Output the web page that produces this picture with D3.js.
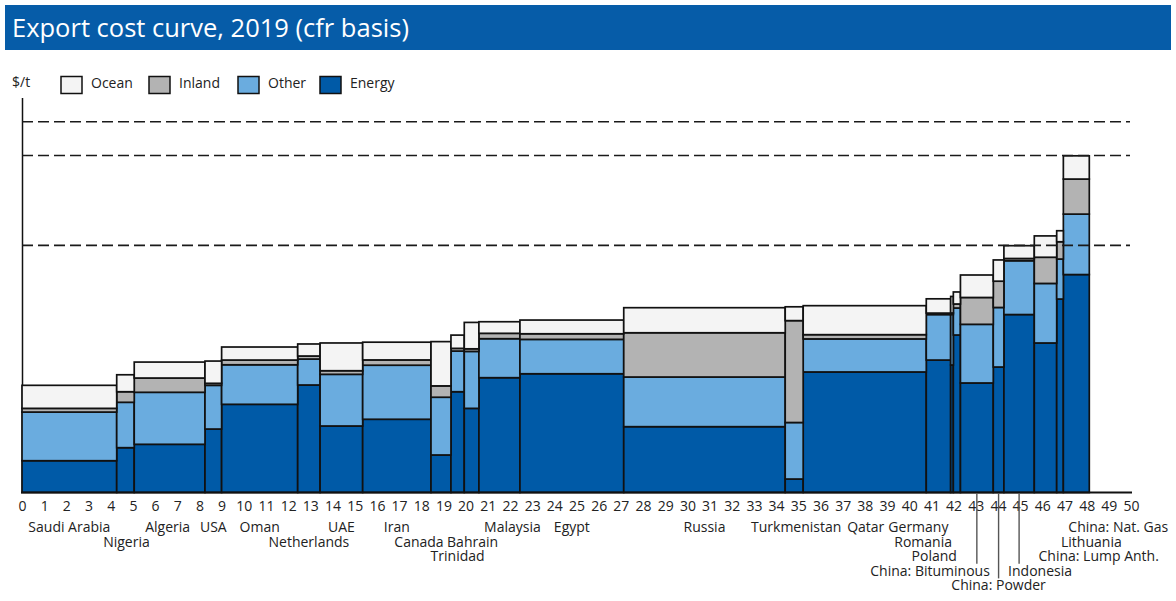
<!DOCTYPE html>
<html>
<head>
<meta charset="utf-8">
<script src="https://cdn.jsdelivr.net/npm/d3@7"></script>
<style>
  html, body { margin: 0; padding: 0; background: #fff; }
  svg { display: block; font-family: "Open Sans", "Noto Sans", sans-serif; }
</style>
</head>
<body>
<svg id="chart" width="1176" height="601"></svg>
<script>
// ---------------- data ----------------
const countries = ["Saudi Arabia", "Nigeria", "Algeria", "USA", "Oman", "Netherlands", "UAE", "Iran",
  "Canada", "Trinidad", "Bahrain", "Malaysia", "Egypt", "Russia", "Turkmenistan", "Qatar", "Germany",
  "Romania", "Poland", "China: Bituminous", "China: Powder", "Indonesia", "China: Lump Anth.",
  "Lithuania", "China: Nat. Gas"];
const volumes = [4.27, 0.79, 3.19, 0.75, 3.43, 1.01, 1.92, 3.08, 0.90, 0.60, 0.66, 1.85, 4.68,
  7.28, 0.81, 5.55, 1.10, 0.12, 0.32, 1.48, 0.48, 1.37, 1.01, 0.30, 1.17];
const energy = [28.3, 39.9, 42.9, 56.5, 78.5, 95.7, 59.2, 65.2, 33.4, 89.7, 74.9, 102.2, 105.7,
  58.6, 12.0, 107.3, 117.9, 113.5, 140.2, 97.5, 111.7, 158.4, 133.1, 172.2, 194.0];
const other = [43.3, 40.4, 46.3, 38.9, 35.2, 23.1, 46.0, 48.1, 51.4, 36.2, 50.7, 34.7, 30.6,
  44.2, 50.3, 29.4, 40.5, 45.0, 24.0, 52.2, 53.0, 47.9, 53.0, 35.6, 53.8];
const inland = [3.3, 9.4, 12.7, 1.8, 4.2, 2.7, 3.2, 4.7, 10.1, 2.4, 2.3, 4.8, 5.0,
  39.4, 90.7, 3.8, 1.3, 1.3, 3.6, 23.9, 23.4, 2.0, 23.3, 15.4, 31.2];
const ocean = [20.5, 15.1, 14.2, 19.8, 11.6, 10.7, 24.7, 15.8, 39.4, 11.8, 23.5, 10.3, 12.2,
  22.3, 12.3, 25.8, 12.7, 14.7, 10.7, 20.0, 18.9, 11.4, 19.0, 9.8, 20.7];
const seriesNames = ["Energy", "Other", "Inland", "Ocean"];   // stacking order, bottom to top
const legendOrder = ["Ocean", "Inland", "Other", "Energy"];
const referenceLevels = [220, 300, 330];
const xTickValues = d3.range(0, 51, 1);
const titleText = "Export cost curve, 2019 (cfr basis)";
const yUnit = "$/t";

// label layout (row, anchor, shift) – presentation only
const labelRow = [0,1,0,0,0,1,0,0,1,2,1,0,0,0,0,0,0,1,2,3,4,3,2,1,0];
const labelAnchor = ["middle","middle","middle","middle","middle","middle","middle","middle","middle","middle",
  "middle","middle","middle","middle","middle","middle","end","end","end","end","middle","start","start","start","start"];
const labelShift = [0,1,-2,0,0,0,0,0,-22,0,1,13,0,0,2,1,10,0,0,13,0,-11,-7,1,-8];
const leader = [19, 20, 21];

// ---------------- chart ----------------
const colors = { Ocean: "#f4f4f4", Inland: "#b3b3b3", Other: "#6aacdf", Energy: "#005aa7" };
const svg = d3.select("#chart");

// title banner
svg.append("rect").attr("x", 5).attr("y", 5).attr("width", 1166).attr("height", 45).attr("fill", "#065ca8");
svg.append("text").attr("x", 12).attr("y", 37).attr("fill", "#fff")
  .attr("font-size", 25.5).text(titleText);

const x = d3.scaleLinear().domain([0, 50]).range([22, 1131]);
const y = d3.scaleLinear().domain([0, 350]).range([492.5, 99.3]);

// build stacked data
const starts = [0, ...d3.cumsum(volumes)].slice(0, volumes.length);
const table = countries.map((c, i) => ({
  country: c, x0: starts[i], x1: starts[i] + volumes[i],
  Energy: energy[i], Other: other[i], Inland: inland[i], Ocean: ocean[i]
}));
const stack = d3.stack().keys(seriesNames)(table);

// y axis line
svg.append("line").attr("x1", 22.5).attr("x2", 22.5).attr("y1", 98).attr("y2", y(0))
  .attr("stroke", "#111").attr("stroke-width", 1.5);

// bars
const g = svg.append("g");
stack.forEach(layer => {
  g.append("g").selectAll("rect").data(layer).join("rect")
    .attr("x", d => x(d.data.x0))
    .attr("width", d => x(d.data.x1) - x(d.data.x0))
    .attr("y", d => y(d[1]))
    .attr("height", d => y(d[0]) - y(d[1]))
    .attr("fill", colors[layer.key])
    .attr("stroke", "#111").attr("stroke-width", 1.7);
});

// reference dashed lines
svg.append("g").selectAll("line").data(referenceLevels).join("line")
  .attr("x1", x(0)).attr("x2", 1130)
  .attr("y1", d => y(d)).attr("y2", d => y(d))
  .attr("stroke", "#1a1a1a").attr("stroke-width", 1.6).attr("stroke-dasharray", "11,5");

// x axis
svg.append("line").attr("x1", 21).attr("x2", 1132).attr("y1", y(0)).attr("y2", y(0))
  .attr("stroke", "#111").attr("stroke-width", 2);
const xAxis = svg.append("g").attr("transform", `translate(0,${y(0)})`)
  .call(d3.axisBottom(x).tickValues(xTickValues).tickSize(0).tickPadding(8.5).tickFormat(d3.format("d")));
xAxis.select(".domain").remove();
xAxis.selectAll("text").attr("font-size", 14).attr("fill", "#222")
  .attr("font-family", "'Open Sans', sans-serif");

// country labels
const rowY = r => 532 + r * 14.6;
svg.append("g").selectAll("text").data(table).join("text")
  .attr("x", (d, i) => (x(d.x0) + x(d.x1)) / 2 + labelShift[i])
  .attr("y", (d, i) => rowY(labelRow[i]))
  .attr("text-anchor", (d, i) => labelAnchor[i])
  .attr("font-size", 14).attr("fill", "#222")
  .text(d => d.country);

// leader lines
svg.append("g").selectAll("line").data(leader).join("line")
  .attr("x1", i => (x(table[i].x0) + x(table[i].x1)) / 2)
  .attr("x2", i => (x(table[i].x0) + x(table[i].x1)) / 2)
  .attr("y1", y(0) + 1)
  .attr("y2", i => rowY(labelRow[i]) - 12)
  .attr("stroke", "#555").attr("stroke-width", 1.4);

// legend
svg.append("text").attr("x", 12).attr("y", 87).attr("font-size", 14).attr("fill", "#222").text(yUnit);
const legendX = { Ocean: 61, Inland: 149, Other: 238, Energy: 320 };
legendOrder.forEach(k => {
  svg.append("rect").attr("x", legendX[k]).attr("y", 76.5).attr("width", 21).attr("height", 17)
    .attr("fill", colors[k]).attr("stroke", "#111").attr("stroke-width", 1.5);
  svg.append("text").attr("x", legendX[k] + 30).attr("y", 88).attr("font-size", 14).attr("fill", "#222").text(k);
});
</script>
</body>
</html>
